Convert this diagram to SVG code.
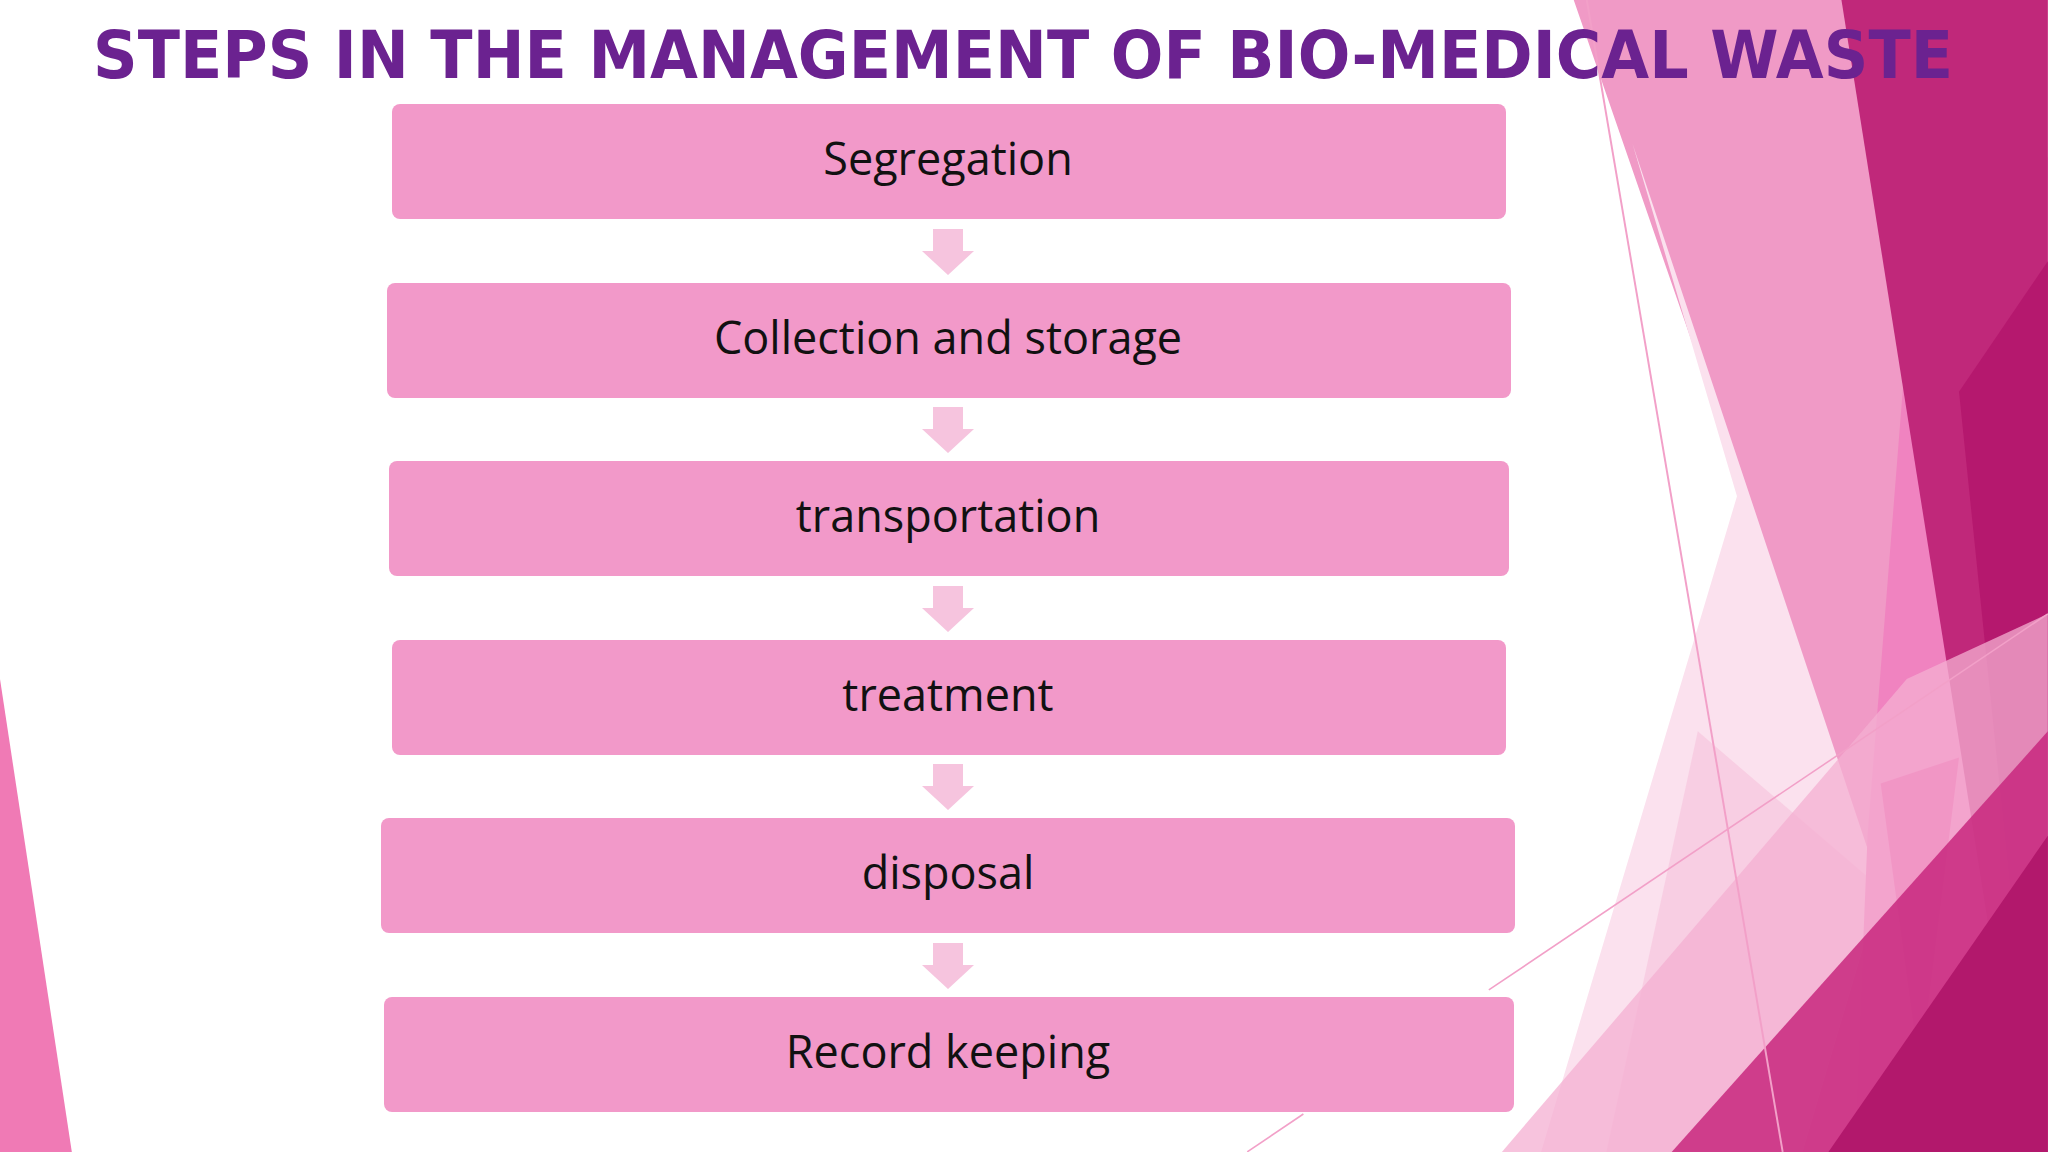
<svg xmlns="http://www.w3.org/2000/svg" width="2048" height="1152" viewBox="0 0 2048 1152">
<style>
.box{fill:#f299c9;}
.lbl{font-family:"Open Sans","DejaVu Sans",sans-serif;font-size:45px;fill:#111;text-anchor:middle;}
.arr{fill:#f6c4de;}
</style>
<defs>
<path id="ar" d="M-15,0 H15 V22 H26 L0,46 L-26,22 H-15 Z"/>
</defs>
<rect width="2048" height="1152" fill="#fff"/>
<g id="background" transform="scale(1.306)">
<polygon points="1205,0 1568,0 1568,882 1380,882 1440,680" fill="#f09ac6"/>
<polygon points="1250,110 1440,680 1380,882 1180,882 1330,380" fill="#fbe1ee"/>
<polygon points="1300,560 1440,680 1380,882 1230,882" fill="#f7c9e0" opacity="0.8"/>
<polygon points="1460,260 1568,120 1568,882 1420,882 1430,640" fill="#f083c0"/>
<polygon points="1410,0 1568,0 1568,882 1550,882" fill="#c0287a"/>
<polygon points="1500,300 1568,200 1568,882 1560,882" fill="#b5186e"/>
<polygon points="1440,600 1500,580 1470,820" fill="#e84ea0"/>
<polygon points="1150,882 1460,520 1568,470 1568,882" fill="#f4afd2" opacity="0.75"/>
<polygon points="1280,882 1568,560 1568,882" fill="#c8287e" opacity="0.85"/>
<polygon points="1400,882 1568,640 1568,882" fill="#b2186c"/>
<polygon points="0,520 55,882 0,882" fill="#f07ab5"/>
<line x1="1215" y1="0" x2="1365" y2="882" stroke="#f2a0c8" stroke-width="1.5"/>
<line x1="1140" y1="758" x2="1568" y2="470" stroke="#f2a0c8" stroke-width="1.2"/>
<line x1="955" y1="882" x2="998" y2="853" stroke="#f2a0c8" stroke-width="1.2"/>
</g>
<text x="1023" y="78" font-family="'DejaVu Sans',sans-serif" font-weight="bold" font-size="66" fill="#6b2290" text-anchor="middle" textLength="1860" lengthAdjust="spacingAndGlyphs">STEPS IN THE MANAGEMENT OF BIO-MEDICAL WASTE</text>
<g id="connectors" class="arr">
<use href="#ar" x="948" y="229"/>
<use href="#ar" x="948" y="407"/>
<use href="#ar" x="948" y="586"/>
<use href="#ar" x="948" y="764"/>
<use href="#ar" x="948" y="943"/>
</g>
<g id="n1"><rect class="box" x="392" y="104" width="1114" height="115" rx="8"/><text class="lbl" x="948" y="175">Segregation</text></g>
<g id="n2"><rect class="box" x="387" y="283" width="1124" height="115" rx="8"/><text class="lbl" x="948" y="354">Collection and storage</text></g>
<g id="n3"><rect class="box" x="389" y="461" width="1120" height="115" rx="8"/><text class="lbl" x="948" y="532">transportation</text></g>
<g id="n4"><rect class="box" x="392" y="640" width="1114" height="115" rx="8"/><text class="lbl" x="948" y="711">treatment</text></g>
<g id="n5"><rect class="box" x="381" y="818" width="1134" height="115" rx="8"/><text class="lbl" x="948" y="889">disposal</text></g>
<g id="n6"><rect class="box" x="384" y="997" width="1130" height="115" rx="8"/><text class="lbl" x="948" y="1068">Record keeping</text></g>
</svg>
